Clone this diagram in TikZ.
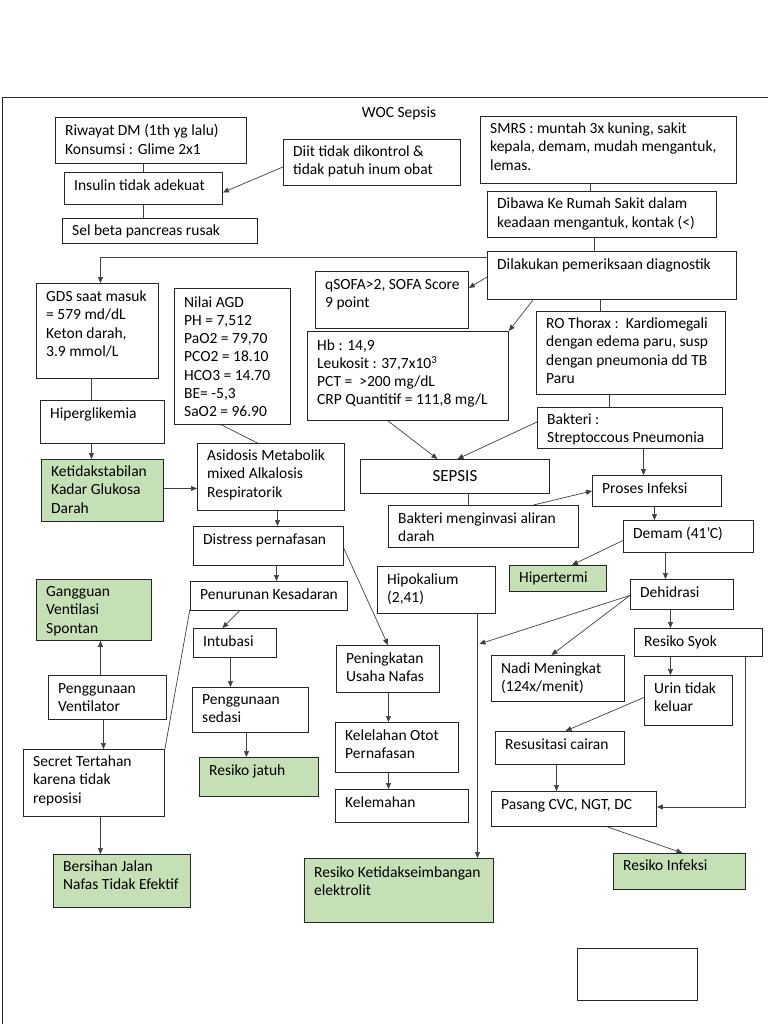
\documentclass[tikz,border=0pt]{standalone}
\usepackage{fontspec}
\setmainfont{Carlito}
\usetikzlibrary{arrows.meta,calc}
\definecolor{diaggreen}{RGB}{197,224,180}
\tikzset{
  box/.style={draw=black!85, line width=0.9pt, fill=white, inner sep=0pt},
  gbox/.style={box, fill=diaggreen},
  txt/.style={inner sep=0pt, font=\fontsize{15.5}{18.3}\selectfont},
  conn/.style={draw=black!75, line width=0.7pt},
  arr/.style={conn, -{Triangle[length=6pt,width=5pt]}},
}
% [baseline offset]{style}{name}{x1}{y1}{x2}{y2}{text}
\newcommand\wocbox[8][17.5]{%
  \node[#2, anchor=north west, minimum width={(#6)-(#4)}, minimum height={(#7)-(#5)}] (#3) at (#4,-#5) {};
  \node[txt, anchor=base west] (#3t) at ([xshift=10pt,yshift=-#1pt]#3.north west) {\begin{tabular}[t]{@{}l@{}}#8\end{tabular}};}
\begin{document}
\begin{tikzpicture}[x=1pt,y=1pt]
\useasboundingbox (0,0) rectangle (768,-1024);
\fill[white] (0,0) rectangle (768,-1024);
\draw[line width=1pt, black!85] (768,-98) -- (2,-98) -- (2,-1024);
\node[txt, anchor=base] (title) at (399,-118) {WOC Sepsis};

\wocbox[19]{box}{riw}{55}{117}{246}{163}{Riwayat DM (1th yg lalu)\\Konsumsi : Glime 2x1}
\wocbox[19]{box}{ins}{64}{172}{222}{204}{Insulin tidak adekuat}
\wocbox[18]{box}{sel}{62}{218}{257}{243}{Sel beta pancreas rusak}
\wocbox[17.5]{box}{diit}{283}{139}{460}{185}{Diit tidak dikontrol \&\\tidak patuh inum obat}
\wocbox[17.5]{box}{smrs}{480}{116}{736}{183}{SMRS : muntah 3x kuning, sakit\\kepala, demam, mudah mengantuk,\\lemas.}
\wocbox[18]{box}{dib}{487}{191}{716}{237}{Dibawa Ke Rumah Sakit dalam\\keadaan mengantuk, kontak (<)}
\wocbox[18]{box}{dil}{487}{251}{736}{299}{Dilakukan pemeriksaan diagnostik}
\wocbox[18.5]{box}{qsofa}{315}{271}{468}{328}{qSOFA>2, SOFA Score\\9 point}
\wocbox[19]{box}{hb}{307}{331}{508}{420}{Hb : 14,9\\Leukosit : 37,7x10\textsuperscript{3}\\PCT =\ \ >200 mg/dL\\CRP Quantitif = 111,8 mg/L}
\wocbox[17.5]{box}{ro}{536}{311}{725}{394}{RO Thorax :\ \ Kardiomegali\\dengan edema paru, susp\\dengan pneumonia dd TB\\Paru}
\wocbox[17.5]{box}{bak}{537}{407}{722}{448}{Bakteri :\\Streptoccous Pneumonia}
\wocbox[18.5]{box}{gds}{36}{283}{158}{378}{GDS saat masuk\\= 579 md/dL\\Keton darah,\\3.9 mmol/L}
\wocbox[19]{box}{agd}{174}{288}{290}{424}{Nilai AGD\\PH = 7,512\\PaO2 = 79,70\\PCO2 = 18.10\\HCO3 = 14.70\\BE= -5,3\\SaO2 = 96.90}
\wocbox[18]{box}{hiperg}{40}{400}{164}{443}{Hiperglikemia}
\wocbox[17.5]{gbox}{ketid}{41}{459}{163}{521}{Ketidakstabilan\\Kadar Glukosa\\Darah}
\wocbox[17.5]{box}{asid}{197}{443}{344}{510}{Asidosis Metabolik\\mixed Alkalosis\\Respiratorik}
\node[box, anchor=north west, minimum width=189, minimum height=34] (sepsis) at (360,-459) {};
\node[txt, font=\fontsize{17}{20}\selectfont] (sepsist) at (sepsis.center) {SEPSIS};
\wocbox[18]{box}{inv}{388}{505}{578}{547}{Bakteri menginvasi aliran\\darah}
\wocbox[18]{box}{proses}{592}{475}{721}{506}{Proses Infeksi}
\wocbox[18]{box}{demam}{623}{520}{753}{552}{Demam (41’C)}
\wocbox[17.5]{gbox}{hiper}{509}{565}{606}{591}{Hipertermi}
\wocbox[18]{box}{dist}{193}{526}{343}{565}{Distress pernafasan}
\wocbox[18]{box}{pen}{190}{581}{347}{610}{Penurunan Kesadaran}
\wocbox[18]{box}{intub}{193}{628}{276}{657}{Intubasi}
\wocbox[17.5]{box}{sed}{192}{687}{308}{732}{Penggunaan\\sedasi}
\wocbox[18]{gbox}{rj}{199}{757}{318}{796}{Resiko jatuh}
\wocbox[17.5]{gbox}{gang}{36}{579}{151}{640}{Gangguan\\Ventilasi\\Spontan}
\wocbox[18]{box}{vent}{48}{675}{166}{719}{Penggunaan\\Ventilator}
\wocbox[17.5]{box}{secret}{23}{749}{164}{816}{Secret Tertahan\\karena tidak\\reposisi}
\wocbox[17.5]{gbox}{bers}{53}{854}{190}{907}{Bersihan Jalan\\Nafas Tidak Efektif}
\wocbox[19]{gbox}{rke}{304}{858}{493}{922}{Resiko Ketidakseimbangan\\elektrolit}
\wocbox[17.5]{gbox}{rinf}{613}{853}{745}{889}{Resiko Infeksi}
\node[box, anchor=north west, minimum width=120, minimum height=52] (blank) at (577,-948) {};
\wocbox[18]{box}{hipo}{377}{566}{495}{613}{Hipokalium\\(2,41)}
\wocbox[18]{box}{pening}{336}{645}{439}{692}{Peningkatan\\Usaha Nafas}
\wocbox[18]{box}{kelel}{335}{722}{458}{772}{Kelelahan Otot\\Pernafasan}
\wocbox[18.5]{box}{kelem}{335}{789}{468}{822}{Kelemahan}
\wocbox[18]{box}{dehid}{630}{579}{733}{609}{Dehidrasi}
\wocbox[18]{box}{syok}{634}{628}{762}{656}{Resiko Syok}
\wocbox[18]{box}{nadi}{491}{655}{624}{701}{Nadi Meningkat\\(124x/menit)}
\wocbox[18]{box}{urin}{644}{675}{732}{725}{Urin tidak\\keluar}
\wocbox[18.5]{box}{resus}{495}{731}{624}{764}{Resusitasi cairan}
\wocbox[18.5]{box}{pasang}{491}{791}{656}{826}{Pasang CVC, NGT, DC}

% connectors
\draw[conn] (ins.north |- riw.south) -- (ins.north);
\draw[conn] (ins.south) -- (ins.south |- sel.north);
\draw[arr] ([yshift=-4.5pt]diit.west) -- ([yshift=-4pt]ins.east);
\draw[conn] ([xshift=-12pt]dib.north |- smrs.south) -- ([xshift=-12pt]dib.north);
\draw[conn] ([xshift=-8pt]dib.south) -- ([xshift=-8pt]dib.south |- dil.north);
\draw[arr] ([yshift=-6pt]dil.north west) -| ([xshift=3pt]gds.north);
\draw[arr] ([yshift=-26pt]dil.north west) -- ([yshift=-17pt]qsofa.north east);
\draw[arr] ([xshift=46pt]dil.south west) -- (hb.north east);
\draw[conn] ([xshift=-11.5pt]dil.south) -- ([xshift=-11.5pt]dil.south |- ro.north);
\draw[conn] ([xshift=-22pt]ro.south) -- ([xshift=-22pt]ro.south |- bak.north);
\draw[arr] ([xshift=81pt]hb.south west) -- ([xshift=-17.5pt]sepsis.north);
\draw[arr] ([yshift=-15pt]bak.north west) -- ([xshift=2.5pt]sepsis.north);
\draw[arr] ([xshift=13.5pt]bak.south) -- ([xshift=13.5pt]bak.south |- proses.north);
\draw[conn] ([xshift=13.5pt]sepsis.south) -- ([xshift=13.5pt]sepsis.south |- inv.north);
\draw[arr] ([xshift=50pt]inv.north) -- (proses.west);
\draw[arr] ([xshift=-2.5pt]proses.south) -- ([xshift=-2.5pt]proses.south |- demam.north);
\draw[arr] ([yshift=-4pt]demam.west) -- ([xshift=14pt]hiper.north);
\draw[arr] ([xshift=-23pt]demam.south) -- ([xshift=-23pt]demam.south |- dehid.north);
\coordinate (hkmid) at ([xshift=43pt,yshift=-30pt]hipo.south);
\draw[arr] ([yshift=-1pt]dehid.west) -- (hkmid);
\draw[arr] ([yshift=-1pt]dehid.west) -- ([xshift=-6.5pt]nadi.north);
\draw[arr] ([xshift=-11.5pt]dehid.south) -- ([xshift=-11.5pt]dehid.south |- syok.north);
\draw[arr] ([xshift=-28pt]syok.south) -- ([xshift=-28pt]syok.south |- urin.north);
\draw[arr] ([xshift=47pt]syok.south) |- ([yshift=2pt]pasang.east);
\draw[arr] ([yshift=3pt]urin.west) -- ([xshift=5.5pt]resus.north);
\draw[arr] ([xshift=-3.5pt]resus.south) -- ([xshift=-3.5pt]resus.south |- pasang.north);
\draw[arr] ([xshift=33.5pt]pasang.south) -- ([xshift=3pt]rinf.north);
\draw[arr] ([xshift=41pt]hipo.south) -- ([xshift=41pt]hipo.south |- rke.north);
\draw[conn] ([xshift=-11pt]agd.south) -- ([xshift=-13.5pt]asid.north);
\draw[conn] ([xshift=-6pt]gds.south) -- ([xshift=-6pt]gds.south |- hiperg.north);
\draw[arr] ([xshift=-11pt]hiperg.south) -- ([xshift=-11pt]hiperg.south |- ketid.north);
\draw[arr] ([yshift=2pt]ketid.east) -- ([yshift=2pt]ketid.east -| asid.west);
\draw[arr] ([xshift=9pt]dist.north |- asid.south) -- ([xshift=9pt]dist.north);
\draw[arr] ([xshift=8pt]dist.south) -- ([xshift=8pt]dist.south |- pen.north);
\draw[arr] ([yshift=-2.5pt]dist.east) -- (pening.north);
\draw[arr] ([xshift=-29.5pt]pen.south) -- ([xshift=-12.5pt]intub.north);
\draw[arr] ([xshift=-4.5pt]intub.south) -- ([xshift=-4.5pt]intub.south |- sed.north);
\draw[arr] ([xshift=-4pt]sed.south) -- ([xshift=-4pt]sed.south |- rj.north);
\draw[conn] ([yshift=2pt]pen.south west) -- (secret.north east);
\draw[arr] ([xshift=-7pt]vent.north) -- ([xshift=-7pt]vent.north |- gang.south);
\draw[arr] ([xshift=-4pt]vent.south) -- ([xshift=-4pt]vent.south |- secret.north);
\draw[arr] ([xshift=-21.5pt]bers.north |- secret.south) -- ([xshift=-21.5pt]bers.north);
\draw[arr] ([xshift=0.5pt]pening.south) -- ([xshift=0.5pt]pening.south |- kelel.north);
\draw[arr] ([xshift=-8.5pt]kelel.south) -- ([xshift=-8.5pt]kelel.south |- kelem.north);
\end{tikzpicture}
\end{document}
